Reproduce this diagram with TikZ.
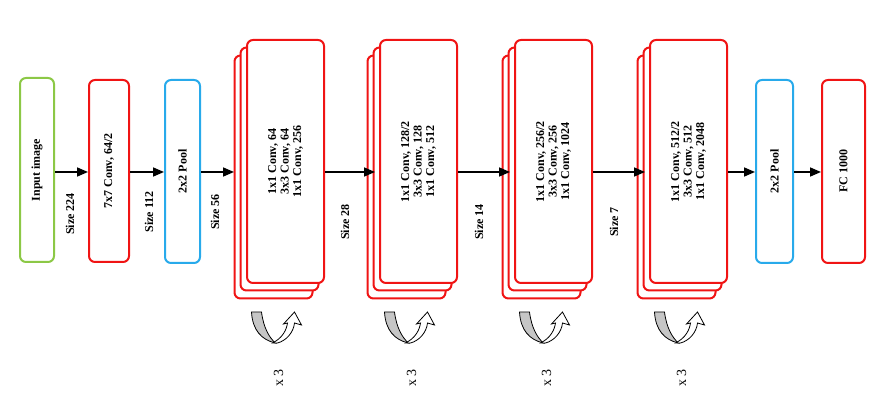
\documentclass[tikz,border=0pt]{standalone}
\usepackage{fontspec}
\setmainfont{Liberation Serif}
\usetikzlibrary{arrows.meta}
\begin{document}
\begin{tikzpicture}[x=1pt,y=-1pt,
  box/.style={draw=#1,line width=2pt,rounded corners=6pt,fill=white,inner sep=0pt},
  txt/.style={rotate=90,font=\bfseries\fontsize{12}{12.5}\selectfont,align=center},
  arr/.style={-{Triangle[length=11pt,width=9pt]},line width=1.6pt},
  sz/.style={rotate=90,font=\bfseries\fontsize{12}{13}\selectfont}]
\useasboundingbox (0,0) rectangle (873,411);
\definecolor{gr}{RGB}{140,200,70}
\definecolor{bl}{RGB}{40,170,235}
\definecolor{rd}{RGB}{240,20,20}
\node[box=gr,minimum width=34pt,minimum height=184pt] (in) at (37,170) {};
\node[box=rd,minimum width=40pt,minimum height=182pt] (c7) at (109,171) {};
\node[box=bl,minimum width=35pt,minimum height=183pt] (p1) at (182.5,171.5) {};
\node[box=bl,minimum width=37pt,minimum height=183pt] (p2) at (774.5,171.5) {};
\node[box=rd,minimum width=43pt,minimum height=183pt] (fc) at (843.5,171.5) {};
\node[txt] at (in) {Input image};
\node[txt] at (c7) {7x7 Conv, 64/2};
\node[txt] at (p1) {2x2 Pool};
\node[txt] at (p2) {2x2 Pool};
\node[txt] at (fc) {FC 1000};
% blocks
\foreach \n/\x/\t in {b1/285.5/{1x1 Conv, 64\\3x3 Conv, 64\\1x1 Conv, 256},
                      b2/418.5/{1x1 Conv, 128/2\\3x3 Conv, 128\\1x1 Conv, 512},
                      b3/553.5/{1x1 Conv, 256/2\\3x3 Conv, 256\\1x1 Conv, 1024},
                      b4/688.5/{1x1 Conv, 512/2\\3x3 Conv, 512\\1x1 Conv, 2048}}{
  \node[box=rd,minimum width=78pt,minimum height=243pt] (\n c) at (\x-12,177) {};
  \node[box=rd,minimum width=78pt,minimum height=243pt] (\n b) at (\x-6,169) {};
  \node[box=rd,minimum width=77pt,minimum height=243pt] (\n) at (\x,161.5) {};
  \node[txt] at (\n) {\t};
  \fill[gray!45,draw=black,line width=0.8pt] (\x-34,312) -- (\x-24,312) .. controls (\x-22,328) and (\x-16,338) .. (\x-10,343) .. controls (\x-24,340) and (\x-33,330) .. cycle;
  \fill[white,draw=black,line width=0.8pt] (\x-13,343) .. controls (\x-3,338) and (\x+1,330) .. (\x+2,323) -- (\x-2,324) -- (\x+9,312) -- (\x+16,325) -- (\x+9,323) .. controls (\x+8,333) and (\x,341) .. (\x-8,343) -- cycle;
  \node[rotate=90,font=\fontsize{14}{15}\selectfont] at (\x-7,378) {x 3};
}
\coordinate (t1) at (234,172);
\coordinate (t2) at (375,172);
\coordinate (t3) at (510,172);
\coordinate (t4) at (645,172);
\draw[arr] (in.east|-t1) -- (c7.west|-t1);
\draw[arr] (c7.east|-t1) -- (p1.west|-t1);
\draw[arr] (p1.east|-t1) -- (t1);
\draw[arr] (b1.east|-t1) -- (t2);
\draw[arr] (b2.east|-t1) -- (t3);
\draw[arr] (b3.east|-t1) -- (t4);
\draw[arr] (b4.east|-t1) -- (p2.west|-t1);
\draw[arr] (p2.east|-t1) -- (fc.west|-t1);
\node[sz] at (70,214) {Size 224};
\node[sz] at (149,212) {Size 112};
\node[sz] at (215,212) {Size 56};
\node[sz] at (345,222) {Size 28};
\node[sz] at (479,222) {Size 14};
\node[sz] at (614,222) {Size 7};
\end{tikzpicture}
\end{document}
